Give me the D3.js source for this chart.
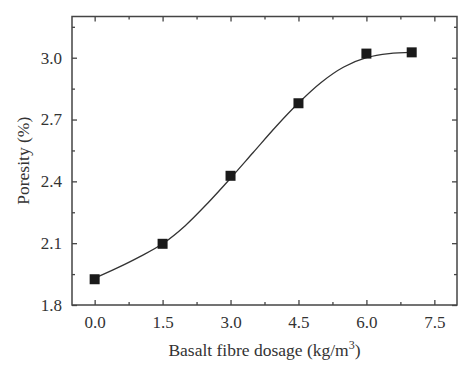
<!DOCTYPE html>
<html>
<head>
	<title>Porosity vs basalt fibre dosage</title>
	<script src="https://d3js.org/d3.v7.min.js" type="text/javascript"></script>
	<style>
		body { margin: 0; background: white; }
		svg text { font-family: "Liberation Serif", "DejaVu Serif", serif; fill: #333; }
	</style>
</head>
<body>
	<script type="text/javascript">
		// Measured points
		var dosage = [0, 1.5, 3.0, 4.5, 6.0, 7.0];
		var porosity = [1.925, 2.097, 2.427, 2.779, 3.020, 3.026];

		// Fitted curve
		var fitX = [0, 0.5, 1, 1.5, 2, 2.5, 3, 3.5, 4, 4.5, 5, 5.5, 6, 6.5, 7];
		var fitY = [1.93, 1.98, 2.035, 2.097, 2.185, 2.295, 2.415, 2.54, 2.665, 2.78, 2.88, 2.955, 3.0, 3.02, 3.026];

		var xTicks = [0, 1.5, 3.0, 4.5, 6.0, 7.5];
		var yTicks = [1.8, 2.1, 2.4, 2.7, 3.0];

		var width = 474, height = 373;
		var pLeft = 72, pRight = 457, pTop = 16.5, pBottom = 305;

		var svg = d3.select("body").append("svg")
			.attr("width", width)
			.attr("height", height);

		var x = d3.scaleLinear().domain([-0.5, 8]).range([pLeft, pRight]);
		var y = d3.scaleLinear().domain([1.8, 3.2]).range([pBottom, pTop]);

		// minor ticks halfway between majors
		var xMinor = xTicks.map(function(d) { return d + 0.75; }).filter(function(d) { return d < 8; });
		var yMinor = yTicks.map(function(d) { return d + 0.15; });

		var axisColor = "#444";

		function drawAxis(axis, tx, ty, labels) {
			var g = svg.append("g")
				.attr("transform", "translate(" + tx + "," + ty + ")")
				.call(axis);
			g.select(".domain").remove();
			g.selectAll("line").attr("stroke", axisColor).attr("stroke-width", 1.3);
			if (!labels) g.selectAll("text").remove();
			return g;
		}

		// bottom
		var bx = drawAxis(d3.axisBottom(x).tickValues(xTicks).tickSize(-5).tickPadding(11)
			.tickFormat(d3.format(".1f")), 0, pBottom, true);
		bx.selectAll("text").attr("font-size", "17px").attr("fill", "#333");
		drawAxis(d3.axisBottom(x).tickValues(xMinor).tickSize(-3), 0, pBottom, false);
		// top
		drawAxis(d3.axisTop(x).tickValues(xTicks).tickSize(-5), 0, pTop, false);
		drawAxis(d3.axisTop(x).tickValues(xMinor).tickSize(-3), 0, pTop, false);
		// left
		var ly = drawAxis(d3.axisLeft(y).tickValues(yTicks).tickSize(-5).tickPadding(10)
			.tickFormat(d3.format(".1f")), pLeft, 0, true);
		ly.selectAll("text").attr("font-size", "17px").attr("fill", "#333");
		drawAxis(d3.axisLeft(y).tickValues(yMinor).tickSize(-3), pLeft, 0, false);
		// right
		drawAxis(d3.axisRight(y).tickValues(yTicks).tickSize(-5), pRight, 0, false);
		drawAxis(d3.axisRight(y).tickValues(yMinor).tickSize(-3), pRight, 0, false);

		// frame
		svg.append("rect")
			.attr("x", pLeft).attr("y", pTop)
			.attr("width", pRight - pLeft).attr("height", pBottom - pTop)
			.attr("fill", "none").attr("stroke", axisColor).attr("stroke-width", 1.5);

		// fitted curve
		var fit = fitX.map(function(d, i) { return [d, fitY[i]]; });
		svg.append("path")
			.datum(fit)
			.attr("fill", "none")
			.attr("stroke", "#333")
			.attr("stroke-width", 1.3)
			.attr("d", d3.line()
				.x(function(d) { return x(d[0]); })
				.y(function(d) { return y(d[1]); })
				.curve(d3.curveMonotoneX));

		// square markers
		var s = 10;
		svg.selectAll("rect.pt")
			.data(dosage)
			.enter()
			.append("rect")
			.attr("class", "pt")
			.attr("x", function(d) { return x(d) - s / 2; })
			.attr("y", function(d, i) { return y(porosity[i]) - s / 2; })
			.attr("width", s)
			.attr("height", s)
			.attr("fill", "#1a1a1a");

		// axis titles
		var xt = svg.append("text")
			.attr("x", (pLeft + pRight) / 2)
			.attr("y", 356)
			.attr("text-anchor", "middle")
			.attr("font-size", "17.5px");
		xt.append("tspan").text("Basalt fibre dosage (kg/m");
		xt.append("tspan").attr("dy", -7).attr("font-size", "12px").text("3");
		xt.append("tspan").attr("dy", 7).text(")");

		svg.append("text")
			.attr("transform", "translate(29," + ((pTop + pBottom) / 2) + ") rotate(-90)")
			.attr("text-anchor", "middle")
			.attr("font-size", "17.5px")
			.text("Poresity (%)");
	</script>
</body>
</html>
